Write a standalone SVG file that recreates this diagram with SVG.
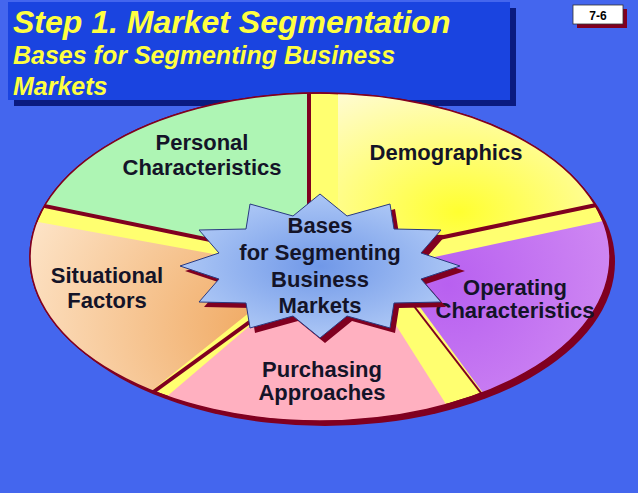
<svg xmlns="http://www.w3.org/2000/svg" width="638" height="493" viewBox="0 0 638 493">
<defs>
<clipPath id="ell"><ellipse cx="320" cy="257" rx="290" ry="164"/></clipPath>
<radialGradient id="gDem" cx="0.4" cy="0.8" r="0.8"><stop offset="0" stop-color="#ffff30"/><stop offset="1" stop-color="#fffbe0"/></radialGradient>
<radialGradient id="gSit" cx="1" cy="0.5" r="1"><stop offset="0" stop-color="#f0a860"/><stop offset="1" stop-color="#fde4c8"/></radialGradient>
<radialGradient id="gOp" cx="0.2" cy="0.3" r="1"><stop offset="0" stop-color="#b860f0"/><stop offset="1" stop-color="#d898f4"/></radialGradient>
<radialGradient id="gStar" cx="0.5" cy="0.5" r="0.6"><stop offset="0" stop-color="#7098e8"/><stop offset="1" stop-color="#b8d0f8"/></radialGradient>
<style>
.lbl{font-family:"Liberation Sans",Arial,sans-serif;font-weight:bold;font-size:22px;fill:#141428;text-anchor:middle}
.ttl{font-family:"Liberation Sans",Arial,sans-serif;font-weight:bold;font-style:italic;fill:#ffff40}
.sep{stroke:#800020;stroke-width:4;fill:none}
</style>
</defs>
<rect width="638" height="493" fill="#4466ee"/>
<g id="title">
<rect x="14" y="8" width="502" height="98" fill="#0a1a80"/>
<rect x="8" y="2" width="502" height="98" fill="#1a44e0"/>
<text class="ttl" x="13" y="33" font-size="32">Step 1. Market Segmentation</text>
<text class="ttl" x="13" y="64" font-size="25">Bases for Segmenting Business</text>
<text class="ttl" x="13" y="95" font-size="25">Markets</text>
</g>
<g id="slide-number">
<rect x="577" y="9" width="50" height="19" fill="#800020"/>
<rect x="573" y="5" width="50" height="19" fill="#ffffff" stroke="#333" stroke-width="0.8"/>
<text x="598" y="19.5" font-family="Liberation Sans,Arial,sans-serif" font-weight="bold" font-size="12" text-anchor="middle" fill="#000">7-6</text>
</g>
<g id="pie">
<ellipse cx="325" cy="262" rx="290" ry="164" fill="#800020"/>
<ellipse cx="320" cy="257" rx="290" ry="164" fill="#ffff70" stroke="#800020" stroke-width="1.5"/>
<g clip-path="url(#ell)">
<polygon id="personal" points="309,60 309,250 220,240 0,197 0,60" fill="#aef5b4"/>
<polygon id="demographics" points="338,60 640,60 640,195 420,240 338,250" fill="url(#gDem)"/>
<polygon id="situational" points="0,215 230,257 265,300 140,400 100,440 0,440" fill="url(#gSit)"/>
<polygon id="purchasing" points="280,300 380,300 475,450 104,450" fill="#ffb0c0"/>
<polygon id="operating" points="400,280 430,258 640,213 640,450 525,450" fill="url(#gOp)"/>
<line class="sep" x1="309" y1="80" x2="309" y2="250"/>
<line class="sep" x1="20" y1="201" x2="225" y2="243"/>
<line class="sep" x1="420" y1="242" x2="620" y2="200"/>
<line class="sep" x1="130" y1="409" x2="255" y2="318"/>
<line x1="400" y1="288" x2="525" y2="450" stroke="#800020" stroke-width="2"/>
</g>
<ellipse cx="320" cy="257" rx="290" ry="164" fill="none" stroke="#800020" stroke-width="1.5"/>
</g>
<g id="labels">
<text class="lbl" x="202" y="150">Personal</text>
<text class="lbl" x="202" y="175">Characteristics</text>
<text class="lbl" x="446" y="160">Demographics</text>
<text class="lbl" x="107" y="283">Situational</text>
<text class="lbl" x="107" y="308">Factors</text>
<text class="lbl" x="515" y="295">Operating</text>
<text class="lbl" x="515" y="318">Characteristics</text>
<text class="lbl" x="322" y="377">Purchasing</text>
<text class="lbl" x="322" y="400">Approaches</text>
</g>
<g id="center">
<polygon transform="translate(5,5)" fill="#800020" points="460,266 421,279 441,302 394,303 390,328 347,316 320,338 293,316 250,328 246,303 199,302 219,279 180,266 219,253 199,230 246,229 250,204 293,216 320,194 347,216 390,204 394,229 441,230 421,253"/>
<polygon fill="url(#gStar)" stroke="#2a3a80" stroke-width="1" points="460,266 421,279 441,302 394,303 390,328 347,316 320,338 293,316 250,328 246,303 199,302 219,279 180,266 219,253 199,230 246,229 250,204 293,216 320,194 347,216 390,204 394,229 441,230 421,253"/>
<text class="lbl" x="320" y="233">Bases</text>
<text class="lbl" x="320" y="260">for Segmenting</text>
<text class="lbl" x="320" y="287">Business</text>
<text class="lbl" x="320" y="313">Markets</text>
</g>
</svg>
